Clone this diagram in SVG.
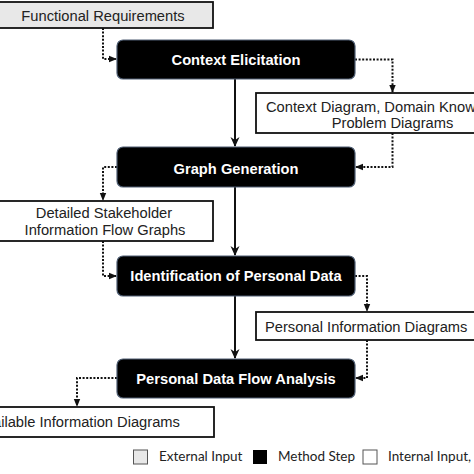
<svg xmlns="http://www.w3.org/2000/svg" width="474" height="474" viewBox="0 0 474 474">
<defs>
<marker id="ah" viewBox="0 0 8 8" refX="7" refY="4" markerWidth="8" markerHeight="8" markerUnits="userSpaceOnUse" orient="auto">
<path d="M0,0.8 L8,4 L0,7.2 Z" fill="#111"/>
</marker>
<marker id="ahs" viewBox="0 0 10 10" refX="9" refY="5" markerWidth="10" markerHeight="10" markerUnits="userSpaceOnUse" orient="auto">
<path d="M0,0.5 L10,5 L0,9.5 L3,5 Z" fill="#111"/>
</marker>
</defs>
<style>
.step{fill:#000;stroke:#4e5d72;stroke-width:1.2}
.ext{fill:#e8e8e8;stroke:#111;stroke-width:1.8}
.int{fill:#fff;stroke:#111;stroke-width:1.8}
.st{font-family:"Liberation Sans",Arial,sans-serif;font-weight:bold;font-size:14.7px;fill:#fff;text-anchor:middle}
.tx{font-family:"Liberation Sans",Arial,sans-serif;font-size:14.7px;fill:#222}
.lg{font-family:Lato,"Liberation Sans",sans-serif;font-size:13.5px;fill:#222}
.dot{fill:none;stroke:#111;stroke-width:2;stroke-dasharray:2 1.6;marker-end:url(#ah)}
.sol{fill:none;stroke:#111;stroke-width:2;marker-end:url(#ahs)}
</style>
<rect width="474" height="474" fill="#fff"/>
<g id="connectors">
<path class="dot" d="M103,28 V59 H116"/>
<path class="dot" d="M355,59.5 H392.5 V92"/>
<path class="sol" d="M235,79 V146"/>
<path class="dot" d="M392.5,133 V167 H356"/>
<path class="dot" d="M117,167 H103 V200"/>
<path class="dot" d="M103,241 V276 H116"/>
<path class="sol" d="M235,187 V255"/>
<path class="dot" d="M355,276 H367 V311"/>
<path class="sol" d="M235,296 V358"/>
<path class="dot" d="M367,340 V378 H356"/>
<path class="dot" d="M117,378 H77 V406"/>
</g>
<g id="functional-requirements">
<rect class="ext" x="-10" y="2" width="223" height="26"/>
<text class="tx" x="103" y="21" text-anchor="middle">Functional Requirements</text>
</g>
<g id="context-elicitation">
<rect class="step" x="117" y="40" width="238" height="39" rx="6"/>
<text class="st" x="236" y="65">Context Elicitation</text>
</g>
<g id="context-diagram">
<rect class="int" x="256" y="93" width="280" height="40"/>
<text class="tx" x="266" y="112">Context Diagram, Domain Knowledge,</text>
<text class="tx" x="392.5" y="128" text-anchor="middle">Problem Diagrams</text>
</g>
<g id="graph-generation">
<rect class="step" x="117" y="147" width="238" height="40" rx="6"/>
<text class="st" x="236" y="174">Graph Generation</text>
</g>
<g id="detailed-stakeholder">
<rect class="int" x="-5" y="201" width="218" height="40"/>
<text class="tx" x="104" y="218" text-anchor="middle">Detailed Stakeholder</text>
<text class="tx" x="105" y="235" text-anchor="middle">Information Flow Graphs</text>
</g>
<g id="identification">
<rect class="step" x="117" y="256" width="238" height="40" rx="6"/>
<text class="st" x="236" y="281">Identification of Personal Data</text>
</g>
<g id="personal-information-diagrams">
<rect class="int" x="256" y="312" width="240" height="28"/>
<text class="tx" x="265" y="332">Personal Information Diagrams</text>
</g>
<g id="personal-data-flow-analysis">
<rect class="step" x="117" y="359" width="238" height="39" rx="6"/>
<text class="st" x="236" y="384">Personal Data Flow Analysis</text>
</g>
<g id="available-information-diagrams">
<rect class="int" x="-60" y="407" width="274" height="30"/>
<text class="tx" x="78" y="427" text-anchor="middle">Available Information Diagrams</text>
</g>
<g id="legend">
<rect x="133.5" y="450" width="14" height="14" fill="#e8e8e8" stroke="#555" stroke-width="1"/>
<text class="lg" x="159" y="461">External Input</text>
<rect x="253" y="450" width="14" height="14" fill="#000"/>
<text class="lg" x="278" y="461">Method Step</text>
<rect x="363" y="450" width="14" height="14" fill="#fff" stroke="#555" stroke-width="1"/>
<text class="lg" x="388" y="461">Internal Input,</text>
</g>
</svg>
